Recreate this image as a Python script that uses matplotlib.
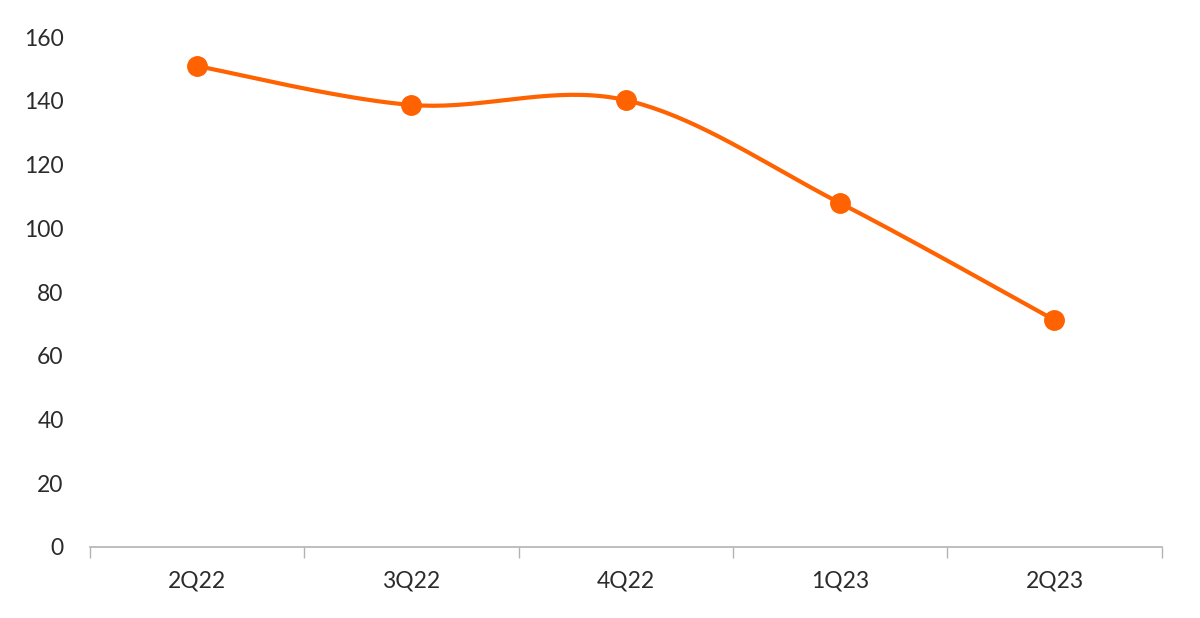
import numpy as np
import matplotlib
matplotlib.use("Agg")
import matplotlib.pyplot as plt
from matplotlib.ticker import FixedLocator

quarters = ["2Q22", "3Q22", "4Q22", "1Q23", "2Q23"]
values = [150.9, 138.7, 140.2, 107.9, 71.2]

ORANGE = "#FF6200"
TEXT = "#2b2b2b"
AXIS = "#b3b3b3"


def smooth_curve(xs, ys, steps=40):
    """Excel-like smoothed line: cubic Bezier with Catmull-Rom control points."""
    px = np.concatenate([[xs[0]], xs, [xs[-1]]])
    py = np.concatenate([[ys[0]], ys, [ys[-1]]])
    out_x, out_y = [], []
    t = np.linspace(0, 1, steps)
    for i in range(1, len(px) - 2):
        x0, y0 = px[i], py[i]
        x3, y3 = px[i + 1], py[i + 1]
        x1 = x0 + (px[i + 1] - px[i - 1]) / 6
        y1 = y0 + (py[i + 1] - py[i - 1]) / 6
        x2 = x3 - (px[i + 2] - px[i]) / 6
        y2 = y3 - (py[i + 2] - py[i]) / 6
        bx = (1 - t) ** 3 * x0 + 3 * (1 - t) ** 2 * t * x1 + 3 * (1 - t) * t ** 2 * x2 + t ** 3 * x3
        by = (1 - t) ** 3 * y0 + 3 * (1 - t) ** 2 * t * y1 + 3 * (1 - t) * t ** 2 * y2 + t ** 3 * y3
        out_x.extend(bx)
        out_y.extend(by)
    return np.array(out_x), np.array(out_y)


plt.rcParams["font.family"] = ["Lato", "DejaVu Sans"]

fig = plt.figure(figsize=(12, 6.18), dpi=100)
ax = fig.add_axes([0.075, 0.115, 0.893, 0.825])

x = np.arange(len(quarters), dtype=float)
sx, sy = smooth_curve(x, np.array(values))
ax.plot(sx, sy, color=ORANGE, lw=3, solid_capstyle="round", zorder=2)
ax.plot(x, values, "o", color=ORANGE, markersize=14, zorder=3)

ax.set_xlim(-0.5, len(quarters) - 0.5)
ax.set_ylim(0, 160)
ax.set_yticks(range(0, 161, 20))
ax.set_xticks(x)
ax.set_xticklabels(quarters)
ax.xaxis.set_minor_locator(FixedLocator(np.arange(-0.5, len(quarters), 1.0)))

for side in ("top", "right", "left"):
    ax.spines[side].set_visible(False)
ax.spines["bottom"].set_color(AXIS)
ax.spines["bottom"].set_linewidth(1.2)

ax.tick_params(axis="x", which="major", length=0, pad=17, labelsize=16.5, labelcolor=TEXT)
ax.tick_params(axis="x", which="minor", length=8, width=1, color=AXIS)
ax.tick_params(axis="y", length=0, pad=19, labelsize=16.5, labelcolor=TEXT)

fig.savefig("out.png", dpi=100, facecolor="white")
